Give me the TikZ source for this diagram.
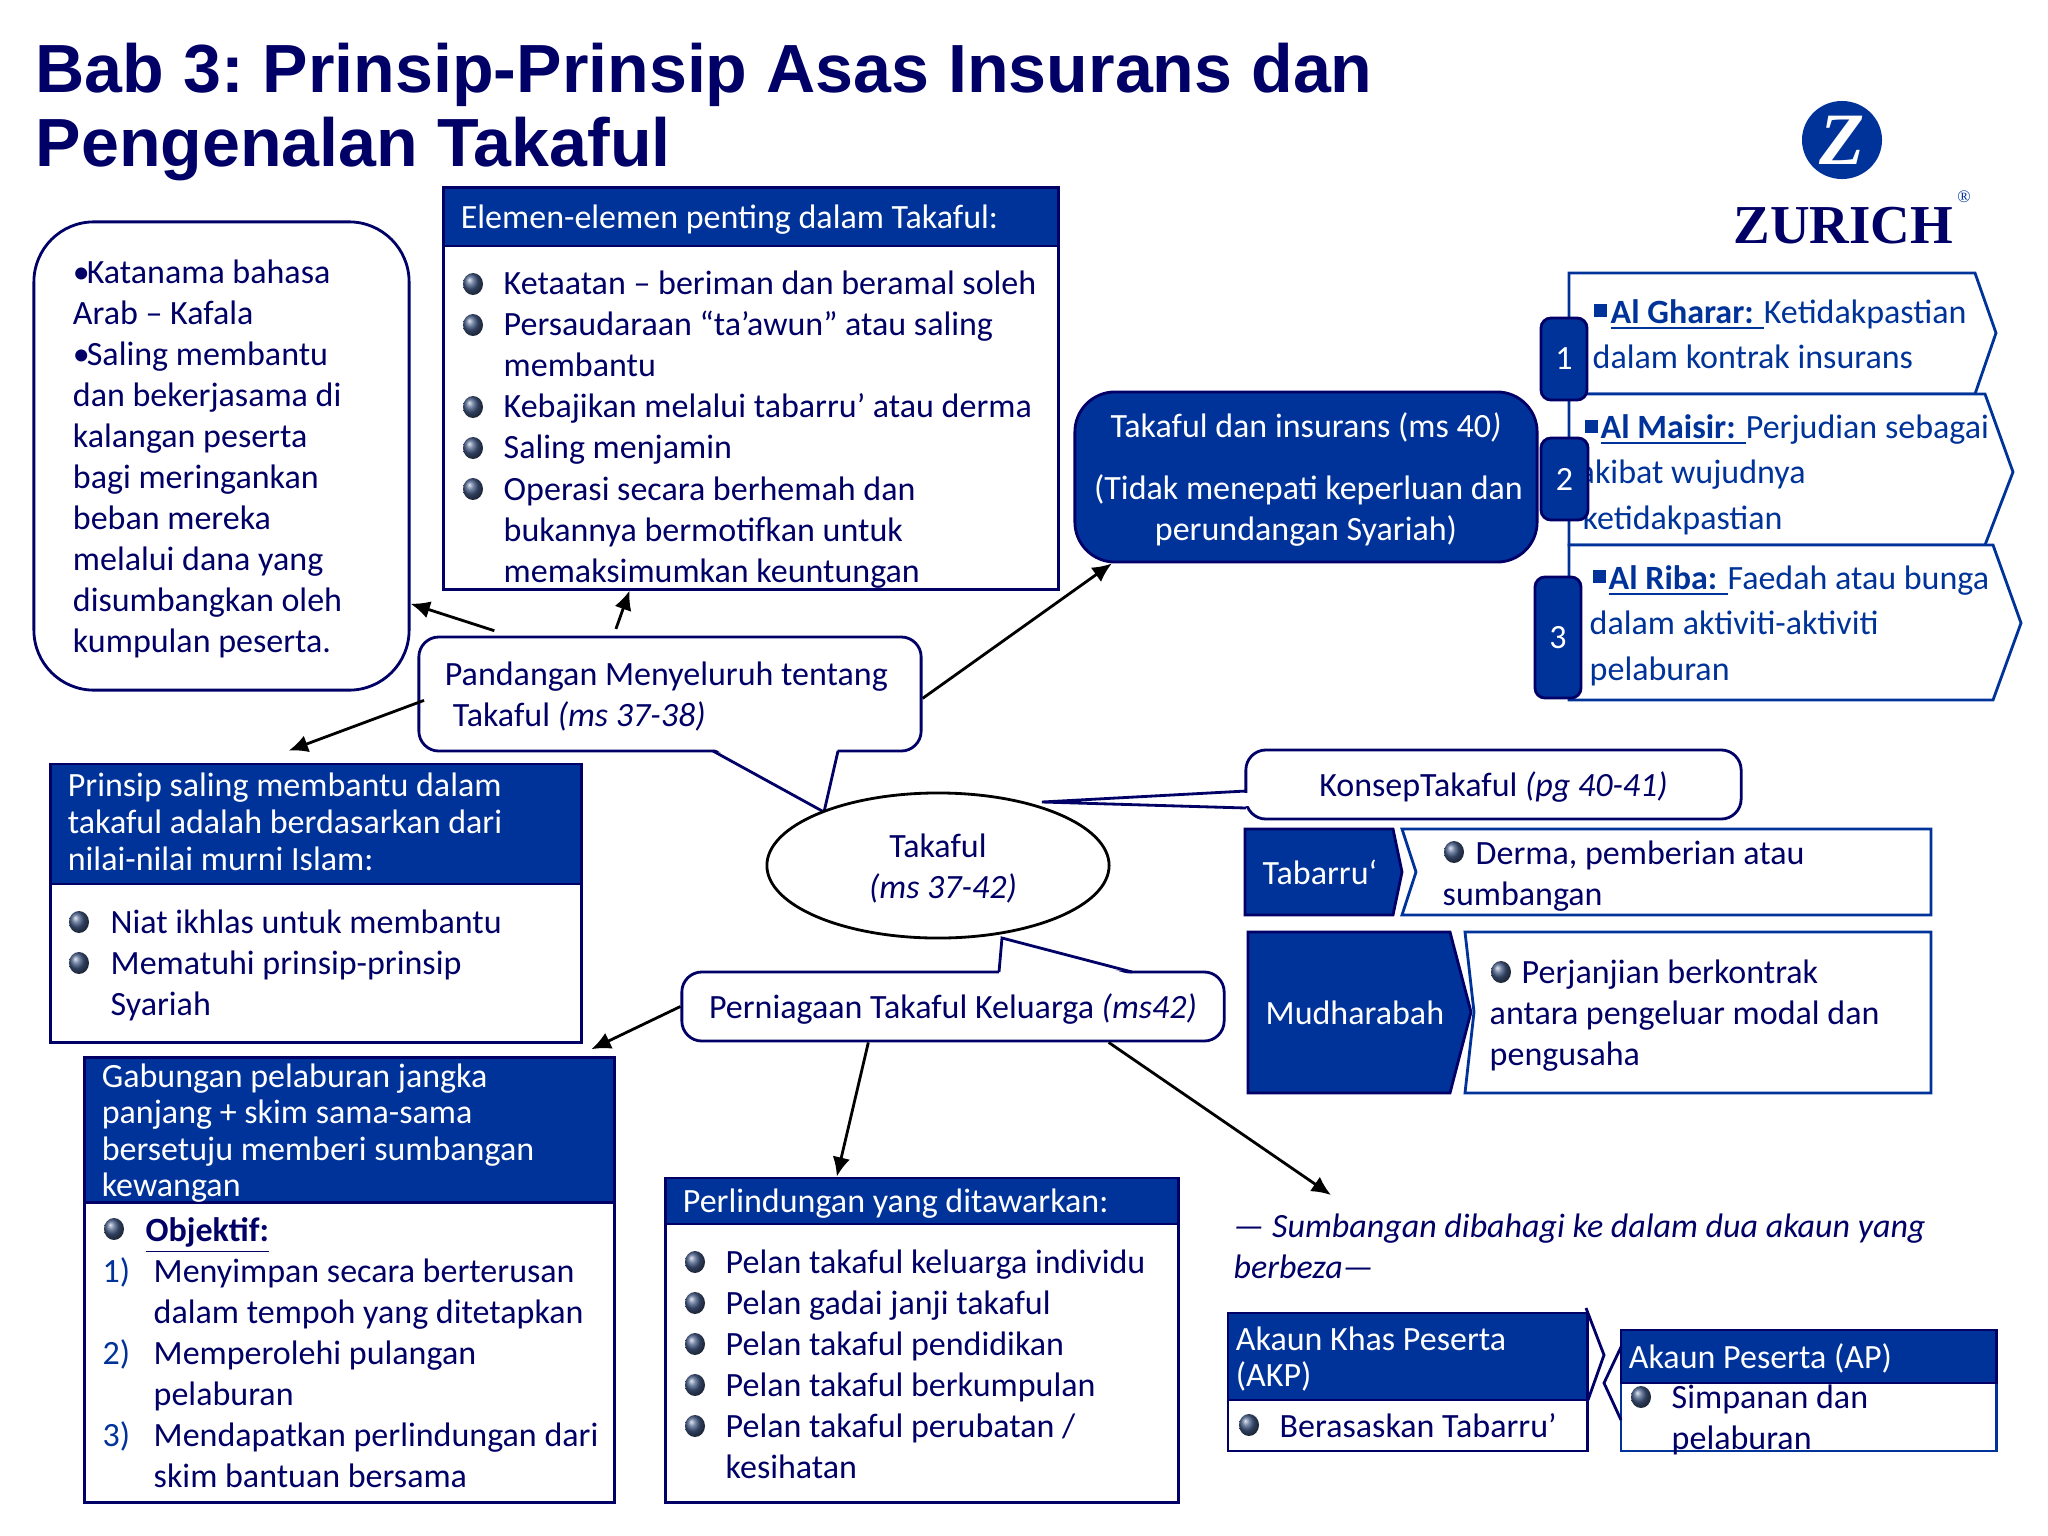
\documentclass[tikz,border=0pt]{standalone}
\usepackage{fontspec}
\usepackage{tikz}
\usetikzlibrary{arrows.meta,shapes.geometric}
\setmainfont{Carlito}
\newfontfamily\titlefont{Liberation Sans}
\newfontfamily\logofont{Liberation Serif}
\definecolor{zblue}{HTML}{003399}
\definecolor{znavy}{HTML}{000066}
\definecolor{ballblue}{HTML}{445A85}
\newcommand{\blob}[2]{\shade[ball color=ballblue] (#1,#2) ellipse (10 and 11);}
\newcommand{\sqmark}[2]{\fill[zblue] (#1,#2) rectangle +(13,13);}
\newcommand{\nudge}{\rule{0pt}{8.4pt}}
\tikzset{
	every node/.style={font=\fontsize{9.67}{11.66}\selectfont,text=znavy,inner sep=0pt},
	list/.style={anchor=base west,align=flush left},
	plain/.style={rectangle,thick,draw=znavy,fill=white},
	head/.style={rectangle,thick,draw=znavy,fill=zblue,text=white,align=flush left,inner xsep=0.17cm},
	callout/.style={rectangle,rounded corners=0.2cm,thick,draw=znavy,fill=white},
	arrow/.style={thick,black,-{Latex[length=5.5pt,width=5pt]}},
	number/.style={rectangle,rounded corners=0.1cm,thick,draw=znavy,fill=zblue,text=white}
}
\begin{document}
\begin{tikzpicture}[x=0.01cm,y=-0.01cm]
	\useasboundingbox (0,0) rectangle (2048,1536);
	% heading and logo
	\node [anchor=base west,align=flush left,font=\titlefont\bfseries\frenchspacing\fontsize{19.38}{21}\selectfont] (title) at (35,166)
		{Bab 3: Prinsip-Prinsip Asas Insurans dan\\Pengenalan Takaful};
	\node [ellipse,fill=zblue,minimum width=0.8cm,minimum height=0.78cm] (ring) at (1842,140) {};
	\node [text=white,font=\logofont\bfseries\itshape\fontsize{21}{21}\selectfont] (zed) at (1842,140) {Z};
	\node [anchor=base west,font=\logofont\bfseries\fontsize{15.6}{16}\selectfont] (brand) at (1733,243) {ZURICH};
	\node [font=\logofont\fontsize{5}{5}\selectfont,text=zblue] (reg) at (1964,197) {®};
	% left column
	\node [callout,rounded corners=0.6cm,minimum width=3.75cm,minimum height=4.68cm,inner xsep=0.39cm,text width=2.97cm,align=flush left] (kafala) at (221.5,456)
		{\nudge •\hspace{-0.03cm}Katanama bahasa\\Arab – Kafala\\•\hspace{-0.03cm}Saling membantu\\dan bekerjasama di\\kalangan peserta\\bagi meringankan\\beban mereka\\melalui dana yang\\disumbangkan oleh\\kumpulan peserta.};

	\node [plain,minimum width=6.14cm,minimum height=4.01cm] (elemen) at (751,388.5) {};
	\node [head,minimum width=6.14cm,minimum height=0.58cm,text width=5.8cm] (elemenhead) at (751,217) {\nudge Elemen-elemen penting dalam Takaful:};
	\node [list] (elementext) at (503,582)
		{Ketaatan – beriman dan beramal soleh\\Persaudaraan “ta’awun” atau saling\\membantu\\Kebajikan melalui tabarru’ atau derma\\Saling menjamin\\Operasi secara berhemah dan\\bukannya bermotifkan untuk\\memaksimumkan keuntungan};
	\blob{473}{284} \blob{473}{325} \blob{473}{407} \blob{473}{448} \blob{473}{489}

	% centre
	\node [callout,minimum width=5.02cm,minimum height=1.14cm,inner xsep=0.26cm,text width=4.5cm,align=flush left] (overview) at (670,694)
		{\nudge Pandangan Menyeluruh tentang\\\hspace{0.08cm}Takaful \textit{(ms 37-38)}};
	\fill [white] (713,748) -- (824,812) -- (838,748) -- cycle;
	\draw [thick,znavy] (713,751) -- (824,812) -- (838,751);
	\node [ellipse,thick,draw=black,fill=white,minimum width=3.42cm,minimum height=1.45cm,align=center] (takaful) at (938,865.5)
		{\nudge Takaful\\\hspace{0.1cm}\textit{(ms 37-42)}};
	\node [callout,minimum width=5.42cm,minimum height=0.69cm] (niaga) at (953,1006.5)
		{\nudge Perniagaan Takaful Keluarga \textit{(ms42)}};
	\fill [white] (999,975) -- (1002,938) -- (1132,975) -- cycle;
	\draw [thick,znavy] (999,972) -- (1002,938) -- (1132,972);
	\node [callout,rounded corners=0.4cm,fill=zblue,text=white,minimum width=4.62cm,minimum height=1.70cm,align=center] (banding) at (1306,477)
		{\nudge Takaful dan insurans (ms 40\textit{)}\\[0.21cm]\hspace{0.05cm}(Tidak menepati keperluan dan\\perundangan Syariah)};

	\node [plain,minimum width=5.30cm,minimum height=2.78cm] (prinsip) at (316,903) {};
	\node [head,minimum width=5.30cm,minimum height=1.20cm,text width=4.96cm,font=\fontsize{9.67}{10.4}\selectfont] (prinsiphead) at (316,824)
		{Prinsip saling membantu dalam\\takaful adalah berdasarkan dari\\nilai-nilai murni Islam:\rule[-1.3pt]{0pt}{1.3pt}};
	\node [list] (prinsiptext) at (110,1015) {Niat ikhlas untuk membantu\\Mematuhi prinsip-prinsip\\Syariah};
	\blob{79}{922} \blob{79}{963}

	\node [plain,minimum width=5.29cm,minimum height=4.44cm] (gabungan) at (349.5,1280) {};
	\node [head,minimum width=5.29cm,minimum height=1.44cm,text width=4.95cm,font=\fontsize{9.67}{10.4}\selectfont] (gabunganhead) at (349.5,1130)
		{\nudge Gabungan pelaburan jangka\\panjang + skim sama-sama\\bersetuju memberi sumbangan\\kewangan};
	\node [list,font=\fontsize{9.67}{11.66}\selectfont\bfseries] (objektif) at (145,1241) {\underline{Objektif:}};
	\node [list,text=zblue] (angka) at (102,1446) {1)\\\\2)\\\\3)};
	\node [list] (gabungantext) at (153,1487) {Menyimpan secara berterusan\\dalam tempoh yang ditetapkan\\Memperolehi pulangan\\pelaburan\\Mendapatkan perlindungan dari\\skim bantuan bersama};
	\blob{114}{1229}

	\node [plain,minimum width=5.12cm,minimum height=3.24cm] (lindung) at (922,1340) {};
	\node [head,minimum width=5.12cm,minimum height=0.46cm,text width=4.78cm] (lindunghead) at (922,1201) {\nudge Perlindungan yang ditawarkan:};
	\node [list] (lindungtext) at (725,1478) {Pelan takaful keluarga individu\\Pelan gadai janji takaful\\Pelan takaful pendidikan\\Pelan takaful berkumpulan\\Pelan takaful perubatan /\\kesihatan};
	\blob{695}{1262} \blob{695}{1303} \blob{695}{1344} \blob{695}{1385} \blob{695}{1426}

	% right: the three chevrons
	\draw [thick,zblue,fill=white] (1569,273) -- (1975,273) -- (1996,333) -- (1975,394) -- (1569,394) -- cycle;
	\draw [thick,zblue,fill=white] (1569,394) -- (1985,394) -- (2013,472) -- (1985,545) -- (1569,545) -- cycle;
	\draw [thick,zblue,fill=white] (1569,545) -- (1993,545) -- (2021,623) -- (1993,700) -- (1569,700) -- cycle;
	\sqmark{1594}{304} \sqmark{1585}{420} \sqmark{1593}{570}
	\node [list,text=zblue] (gharar) at (1610,323) {\textbf{\underline{Al Gharar: }}Ketidakpastian};
	\node [list,text=zblue] (gharartext) at (1592,368) {dalam kontrak insurans};
	\node [list,text=zblue] (maisir) at (1600,438) {\textbf{\underline{Al Maisir: }}Perjudian sebagai};
	\node [list,text=zblue] (maisirtext) at (1578,483) {akibat wujudnya};
	\node [list,text=zblue] (maisirend) at (1582,529) {ketidakpastian};
	\node [list,text=zblue] (riba) at (1608,589) {\textbf{\underline{Al Riba: }}Faedah atau bunga};
	\node [list,text=zblue] (ribatext) at (1589,634) {dalam aktiviti-aktiviti};
	\node [list,text=zblue] (ribaend) at (1589,680) {pelaburan};
	\node [number,minimum width=0.46cm,minimum height=0.82cm] (one) at (1564,359) {1};
	\node [number,minimum width=0.47cm,minimum height=0.82cm] (two) at (1564.5,479) {2};
	\node [number,minimum width=0.46cm,minimum height=1.21cm] (three) at (1558,637.5) {3};

	% right: concept
	\node [callout,minimum width=4.95cm,minimum height=0.69cm] (konsep) at (1493.5,784.5) {\nudge KonsepTakaful \textit{(pg 40-41)}};
	\fill [white] (1249,793) -- (1042,802) -- (1249,806) -- cycle;
	\draw [thick,znavy] (1246,791) -- (1042,802) -- (1246,808);

	\draw [thick,znavy,fill=zblue] (1245,829) -- (1393,829) -- (1402,872) -- (1393,915) -- (1245,915) -- cycle;
	\node [list,text=white] (tabarru) at (1262,884) {Tabarru‘};
	\draw [thick,zblue,fill=white] (1402,829) -- (1931,829) -- (1931,915) -- (1402,915) -- (1416,872) -- cycle;
	\blob{1454}{852}
	\node [list] (derma) at (1475,864) {Derma, pemberian atau};
	\node [list] (dermaend) at (1442,905) {sumbangan};

	\draw [thick,znavy,fill=zblue] (1248,932) -- (1450,932) -- (1471,1012) -- (1450,1093) -- (1248,1093) -- cycle;
	\node [list,text=white] (mudharabah) at (1265,1024) {Mudharabah};
	\draw [thick,zblue,fill=white] (1465,932) -- (1931,932) -- (1931,1093) -- (1465,1093) -- (1474,1012) -- cycle;
	\blob{1501}{972}
	\node [list] (janji) at (1521,983) {Perjanjian berkontrak};
	\node [list] (janjitext) at (1489,1065) {antara pengeluar modal dan\\pengusaha};

	\node [list,font=\fontsize{9.67}{11.66}\selectfont\itshape] (sumbangan) at (1233,1278) {— Sumbangan dibahagi ke dalam dua akaun yang\\berbeza—};

	% right: the two accounts
	\node [plain,minimum width=3.59cm,minimum height=1.38cm] (akp) at (1407.5,1382) {};
	\node [head,inner xsep=0.08cm,minimum width=3.59cm,minimum height=0.87cm,text width=3.43cm,font=\fontsize{9.67}{10.2}\selectfont] (akphead) at (1407.5,1356.5) {\nudge Akaun Khas Peserta\\(AKP)};
	\node [list] (akptext) at (1279,1437) {Berasaskan Tabarru’};
	\blob{1249}{1425}
	\draw [thick,znavy] (1586,1308) -- (1604,1355) -- (1588,1400);
	\node [plain,draw=zblue,minimum width=3.75cm,minimum height=1.21cm] (ap) at (1808.5,1390.5) {};
	\node [head,inner xsep=0.08cm,minimum width=3.75cm,minimum height=0.53cm,text width=3.59cm] (aphead) at (1808.5,1356.5) {\nudge Akaun Peserta (AP)};
	\node [list] (aptext) at (1671,1449) {Simpanan dan\\pelaburan};
	\blob{1641}{1397}
	\draw [thick,znavy] (1621,1347) -- (1604,1383) -- (1621,1420);

	% connectors
	\draw [arrow,shorten <=4.5pt] (overview.160) -- (kafala.-38);
	\draw [arrow,shorten <=2pt] (overview.134) -- (elemen.239);
	\draw [arrow,shorten <=-2pt,shorten >=9.7pt] (overview.182) -- (prinsiphead.134);
	\draw [arrow] (overview.-1) -- (banding.204.5);
	\draw [arrow,shorten >=4.5pt] (niaga.west) -- (gabunganhead.18.5);
	\draw [arrow] (niaga.203) -- (lindunghead.164.5);
	\coordinate (bahagi) at (1331,1195);
	\draw [arrow] (niaga.-13) -- (bahagi);
\end{tikzpicture}
\end{document}
